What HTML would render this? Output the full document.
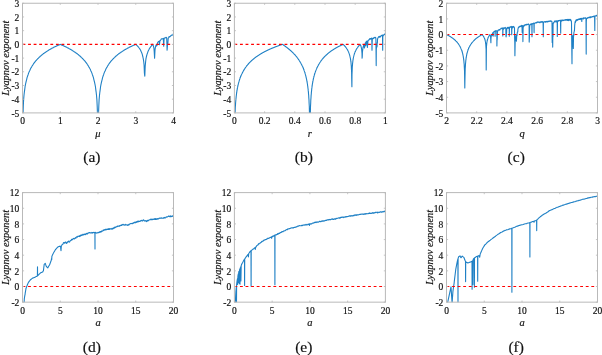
<!DOCTYPE html>
<html lang="en"><head><meta charset="utf-8"><title>Lyapunov exponents</title>
<style>html,body{margin:0;padding:0;background:#fff}body{width:602px;height:355px;overflow:hidden}svg{display:block}</style>
</head><body>
<svg width="602" height="355" viewBox="0 0 602 355" font-family="'Liberation Serif', serif">
<rect width="602" height="355" fill="#fff"/>
<style>text{stroke:#111;stroke-width:0.18px}</style>
<g id="plot-a">
<clipPath id="c0"><rect x="22.5" y="3.25" width="151.0" height="109.65"/></clipPath>
<polyline clip-path="url(#c0)" points="22.9,117.3 23.3,106.3 23.6,99.9 24.0,95.3 24.4,91.8 24.8,88.9 25.1,86.5 25.5,84.4 25.9,82.5 26.3,80.8 26.7,79.3 27.0,77.9 27.4,76.7 27.8,75.5 28.2,74.4 28.5,73.4 28.9,72.4 29.3,71.5 29.7,70.7 30.1,69.8 30.4,69.1 30.8,68.3 31.2,67.6 31.6,67.0 31.9,66.3 32.3,65.7 32.7,65.1 33.1,64.5 33.4,64.0 33.8,63.4 34.2,62.9 34.6,62.4 35.0,61.9 35.3,61.4 35.7,61.0 36.1,60.5 36.5,60.1 36.8,59.7 37.2,59.3 37.6,58.9 38.0,58.5 38.4,58.1 38.7,57.7 39.1,57.4 39.5,57.0 39.9,56.7 40.2,56.3 40.6,56.0 41.0,55.7 41.4,55.3 41.8,55.0 42.1,54.7 42.5,54.4 42.9,54.1 43.3,53.8 43.6,53.5 44.0,53.3 44.4,53.0 44.8,52.7 45.1,52.5 45.5,52.2 45.9,51.9 46.3,51.7 46.7,51.4 47.0,51.2 47.4,50.9 47.8,50.7 48.2,50.5 48.5,50.2 48.9,50.0 49.3,49.8 49.7,49.6 50.1,49.4 50.4,49.1 50.8,48.9 51.2,48.7 51.6,48.5 51.9,48.3 52.3,48.1 52.7,47.9 53.1,47.7 53.5,47.5 53.8,47.3 54.2,47.1 54.6,46.9 55.0,46.8 55.3,46.6 55.7,46.4 56.1,46.2 56.5,46.0 56.9,45.9 57.2,45.7 57.6,45.5 58.0,45.3 58.4,45.2 58.7,45.0 59.1,44.9 59.5,44.7 59.9,44.5 60.2,44.4 60.6,44.5 61.0,44.7 61.4,44.9 61.8,45.0 62.1,45.2 62.5,45.3 62.9,45.5 63.3,45.7 63.6,45.9 64.0,46.0 64.4,46.2 64.8,46.4 65.2,46.6 65.5,46.8 65.9,46.9 66.3,47.1 66.7,47.3 67.0,47.5 67.4,47.7 67.8,47.9 68.2,48.1 68.6,48.3 68.9,48.5 69.3,48.7 69.7,48.9 70.1,49.1 70.4,49.4 70.8,49.6 71.2,49.8 71.6,50.0 72.0,50.2 72.3,50.5 72.7,50.7 73.1,50.9 73.5,51.2 73.8,51.4 74.2,51.7 74.6,51.9 75.0,52.2 75.4,52.5 75.7,52.7 76.1,53.0 76.5,53.3 76.9,53.5 77.2,53.8 77.6,54.1 78.0,54.4 78.4,54.7 78.7,55.0 79.1,55.3 79.5,55.7 79.9,56.0 80.3,56.3 80.6,56.7 81.0,57.0 81.4,57.4 81.8,57.7 82.1,58.1 82.5,58.5 82.9,58.9 83.3,59.3 83.7,59.7 84.0,60.1 84.4,60.5 84.8,61.0 85.2,61.4 85.5,61.9 85.9,62.4 86.3,62.9 86.7,63.4 87.1,64.0 87.4,64.5 87.8,65.1 88.2,65.7 88.6,66.3 88.9,67.0 89.3,67.6 89.7,68.3 90.1,69.1 90.5,69.8 90.8,70.7 91.2,71.5 91.6,72.4 92.0,73.4 92.3,74.4 92.7,75.5 93.1,76.7 93.5,77.9 93.8,79.3 94.2,80.8 94.6,82.5 95.0,84.4 95.4,86.5 95.7,88.9 96.1,91.8 96.5,95.3 96.9,99.9 97.2,106.3 97.6,117.3 98.0,126.6 98.4,117.3 98.8,106.3 99.1,99.9 99.5,95.3 99.9,91.8 100.3,88.9 100.6,86.5 101.0,84.4 101.4,82.5 101.8,80.8 102.2,79.3 102.5,77.9 102.9,76.7 103.3,75.5 103.7,74.4 104.0,73.4 104.4,72.4 104.8,71.5 105.2,70.7 105.6,69.8 105.9,69.1 106.3,68.3 106.7,67.6 107.1,67.0 107.4,66.3 107.8,65.7 108.2,65.1 108.6,64.5 108.9,64.0 109.3,63.4 109.7,62.9 110.1,62.4 110.5,61.9 110.8,61.4 111.2,61.0 111.6,60.5 112.0,60.1 112.3,59.7 112.7,59.3 113.1,58.9 113.5,58.5 113.9,58.1 114.2,57.7 114.6,57.4 115.0,57.0 115.4,56.7 115.7,56.3 116.1,56.0 116.5,55.7 116.9,55.3 117.3,55.0 117.6,54.7 118.0,54.4 118.4,54.1 118.8,53.8 119.1,53.5 119.5,53.3 119.9,53.0 120.3,52.7 120.7,52.5 121.0,52.2 121.4,51.9 121.8,51.7 122.2,51.4 122.5,51.2 122.9,50.9 123.3,50.7 123.7,50.5 124.0,50.2 124.4,50.0 124.8,49.8 125.2,49.6 125.6,49.4 125.9,49.1 126.3,48.9 126.7,48.7 127.1,48.5 127.4,48.3 127.8,48.1 128.2,47.9 128.6,47.7 129.0,47.5 129.3,47.3 129.7,47.1 130.1,46.9 130.5,46.8 130.8,46.6 131.2,46.4 131.6,46.2 132.0,46.0 132.4,45.9 132.7,45.7 133.1,45.5 133.5,45.3 133.9,45.2 134.2,45.0 134.6,44.9 135.0,44.7 135.4,44.5 135.8,44.4 136.1,44.7 136.5,45.0 136.9,45.4 137.3,45.8 137.6,46.2 138.0,46.6 138.4,47.0 138.8,47.5 139.1,48.0 139.5,48.5 139.9,49.1 140.3,49.8 140.7,50.5 141.0,51.2 141.4,52.1 141.8,53.0 142.2,54.1 142.5,55.4 142.9,57.0 143.3,58.9 143.7,61.4 144.1,65.2 144.4,72.9 144.8,76.3 145.2,66.3 145.6,62.0 145.9,59.2 146.3,57.2 146.7,55.5 147.1,54.2 147.5,53.0 147.8,52.0 148.2,51.1 148.6,50.3 149.0,49.5 149.3,48.8 149.7,48.2 150.1,47.6 150.5,47.1 150.8,46.5 151.2,46.1 151.6,45.6 152.0,45.2 152.4,44.7 152.7,44.4 153.1,45.3 153.5,46.4 153.9,48.1 154.2,51.2 154.6,58.2 155.0,49.9 155.4,47.4 155.8,45.9 156.1,44.8 156.5,46.0 156.9,45.6 157.3,44.2 157.6,42.7 158.0,42.1 158.4,41.6 158.8,41.4 159.2,41.1 159.5,44.7 159.9,40.9 160.3,40.5 160.7,39.9 161.0,39.5 161.4,38.9 161.8,39.0 162.2,38.9 162.6,38.8 162.9,38.7 163.3,38.4 163.7,46.1 164.1,38.6 164.4,38.2 164.8,37.9 165.2,37.9 165.6,37.8 166.0,37.3 166.3,37.6 166.7,37.8 167.1,50.2 167.5,45.1 167.8,44.3 168.2,38.3 168.6,37.7 169.0,36.6 169.3,36.6 169.7,37.0 170.1,36.5 170.5,36.1 170.9,35.8 171.2,35.4 171.6,35.1 172.0,35.3 172.4,35.1 172.7,34.8 173.1,34.2 173.5,33.4" fill="none" stroke="#1f80c5" stroke-width="1.1" stroke-linejoin="round"/>
<line x1="22.5" y1="44.37" x2="173.5" y2="44.37" stroke="#f00" stroke-width="1.05" stroke-dasharray="2.85 2.72"/>
<rect x="22.5" y="3.25" width="151.0" height="109.65" fill="none" stroke="#b9b9b9" stroke-width="1"/>
<path d="M22.50 112.9v-1.6M22.50 3.25v1.6M60.25 112.9v-1.6M60.25 3.25v1.6M98.00 112.9v-1.6M98.00 3.25v1.6M135.75 112.9v-1.6M135.75 3.25v1.6M173.50 112.9v-1.6M173.50 3.25v1.6M22.5 112.90h1.6M173.5 112.90h-1.6M22.5 99.19h1.6M173.5 99.19h-1.6M22.5 85.49h1.6M173.5 85.49h-1.6M22.5 71.78h1.6M173.5 71.78h-1.6M22.5 58.08h1.6M173.5 58.08h-1.6M22.5 44.37h1.6M173.5 44.37h-1.6M22.5 30.66h1.6M173.5 30.66h-1.6M22.5 16.96h1.6M173.5 16.96h-1.6M22.5 3.25h1.6M173.5 3.25h-1.6" stroke="#b9b9b9" stroke-width="0.8" fill="none"/>
<g font-size="9.5" fill="#111">
<text x="22.50" y="124.30" text-anchor="middle">0</text>
<text x="60.25" y="124.30" text-anchor="middle">1</text>
<text x="98.00" y="124.30" text-anchor="middle">2</text>
<text x="135.75" y="124.30" text-anchor="middle">3</text>
<text x="173.50" y="124.30" text-anchor="middle">4</text>
<text x="19.30" y="116.60" text-anchor="end">-5</text>
<text x="19.30" y="102.89" text-anchor="end">-4</text>
<text x="19.30" y="89.19" text-anchor="end">-3</text>
<text x="19.30" y="75.48" text-anchor="end">-2</text>
<text x="19.30" y="61.78" text-anchor="end">-1</text>
<text x="19.30" y="48.07" text-anchor="end">0</text>
<text x="19.30" y="34.36" text-anchor="end">1</text>
<text x="19.30" y="20.66" text-anchor="end">2</text>
<text x="19.30" y="6.95" text-anchor="end">3</text>
</g>
<text x="98.00" y="136.90" text-anchor="middle" font-size="10.5" font-style="italic" fill="#111">μ</text>
<text transform="translate(8.60 58.08) rotate(-90)" text-anchor="middle" font-size="10.3" font-style="italic" fill="#111">Lyapnov exponent</text>
<text x="91.9" y="162.15" text-anchor="middle" font-size="15.5" fill="#111">(a)</text>
</g>
<g id="plot-b">
<clipPath id="c1"><rect x="234.4" y="3.25" width="151.0" height="109.65"/></clipPath>
<polyline clip-path="url(#c1)" points="234.6,126.6 234.7,124.6 234.9,118.2 235.0,113.7 235.2,110.1 235.3,107.2 235.5,104.8 235.6,102.7 235.8,100.8 235.9,99.2 236.1,97.6 236.2,96.3 236.4,95.0 236.5,93.8 236.7,92.7 236.8,91.7 237.0,90.7 237.1,89.8 237.3,89.0 237.4,88.2 237.6,87.4 237.7,86.7 237.9,86.0 238.0,85.3 238.2,84.6 238.3,84.0 238.5,83.4 238.6,82.9 238.8,82.3 238.9,81.8 239.1,81.2 239.2,80.7 239.4,80.2 239.5,79.8 239.7,79.3 239.8,78.9 240.0,78.4 240.1,78.0 240.3,77.6 240.4,77.2 240.6,76.8 240.7,76.4 240.9,76.1 241.0,75.7 241.2,75.3 241.3,75.0 241.5,74.7 241.6,74.3 241.8,74.0 242.0,73.7 242.1,73.4 242.3,73.1 242.4,72.7 242.6,72.5 242.7,72.2 242.9,71.9 243.0,71.6 243.2,71.3 243.3,71.1 243.5,70.8 243.6,70.5 243.8,70.3 243.9,70.0 244.1,69.8 244.2,69.5 244.4,69.3 244.5,69.0 244.7,68.8 244.8,68.6 245.0,68.3 245.1,68.1 245.3,67.9 245.4,67.7 245.6,67.5 245.7,67.3 245.9,67.0 246.0,66.8 246.2,66.6 246.3,66.4 246.5,66.2 246.6,66.0 246.8,65.8 246.9,65.6 247.1,65.5 247.2,65.3 247.4,65.1 247.5,64.9 247.7,64.7 247.8,64.5 248.0,64.4 248.1,64.2 248.3,64.0 248.4,63.8 248.6,63.7 248.7,63.5 248.9,63.3 249.0,63.2 249.2,63.0 249.3,62.9 249.5,62.7 249.7,62.5 249.8,62.4 250.0,62.2 250.1,62.1 250.3,61.9 250.4,61.8 250.6,61.6 250.7,61.5 250.9,61.3 251.0,61.2 251.2,61.0 251.3,60.9 251.5,60.8 251.6,60.6 251.8,60.5 251.9,60.3 252.1,60.2 252.2,60.1 252.4,59.9 252.5,59.8 252.7,59.7 252.8,59.6 253.0,59.4 253.1,59.3 253.3,59.2 253.4,59.0 253.6,58.9 253.7,58.8 253.9,58.7 254.0,58.5 254.2,58.4 254.3,58.3 254.5,58.2 254.6,58.1 254.8,57.9 254.9,57.8 255.1,57.7 255.2,57.6 255.4,57.5 255.5,57.4 255.7,57.3 255.8,57.1 256.0,57.0 256.1,56.9 256.3,56.8 256.4,56.7 256.6,56.6 256.7,56.5 256.9,56.4 257.1,56.3 257.2,56.2 257.4,56.1 257.5,56.0 257.7,55.9 257.8,55.8 258.0,55.7 258.1,55.6 258.3,55.5 258.4,55.4 258.6,55.3 258.7,55.2 258.9,55.1 259.0,55.0 259.2,54.9 259.3,54.8 259.5,54.7 259.6,54.6 259.8,54.5 259.9,54.4 260.1,54.3 260.2,54.2 260.4,54.1 260.5,54.0 260.7,53.9 260.8,53.8 261.0,53.7 261.1,53.7 261.3,53.6 261.4,53.5 261.6,53.4 261.7,53.3 261.9,53.2 262.0,53.1 262.2,53.0 262.3,53.0 262.5,52.9 262.6,52.8 262.8,52.7 262.9,52.6 263.1,52.5 263.2,52.5 263.4,52.4 263.5,52.3 263.7,52.2 263.8,52.1 264.0,52.0 264.1,52.0 264.3,51.9 264.4,51.8 264.6,51.7 264.8,51.6 264.9,51.6 265.1,51.5 265.2,51.4 265.4,51.3 265.5,51.3 265.7,51.2 265.8,51.1 266.0,51.0 266.1,51.0 266.3,50.9 266.4,50.8 266.6,50.7 266.7,50.7 266.9,50.6 267.0,50.5 267.2,50.4 267.3,50.4 267.5,50.3 267.6,50.2 267.8,50.1 267.9,50.1 268.1,50.0 268.2,49.9 268.4,49.9 268.5,49.8 268.7,49.7 268.8,49.7 269.0,49.6 269.1,49.5 269.3,49.4 269.4,49.4 269.6,49.3 269.7,49.2 269.9,49.2 270.0,49.1 270.2,49.0 270.3,49.0 270.5,48.9 270.6,48.8 270.8,48.8 270.9,48.7 271.1,48.6 271.2,48.6 271.4,48.5 271.5,48.4 271.7,48.4 271.8,48.3 272.0,48.3 272.1,48.2 272.3,48.1 272.5,48.1 272.6,48.0 272.8,47.9 272.9,47.9 273.1,47.8 273.2,47.8 273.4,47.7 273.5,47.6 273.7,47.6 273.8,47.5 274.0,47.5 274.1,47.4 274.3,47.3 274.4,47.3 274.6,47.2 274.7,47.2 274.9,47.1 275.0,47.0 275.2,47.0 275.3,46.9 275.5,46.9 275.6,46.8 275.8,46.7 275.9,46.7 276.1,46.6 276.2,46.6 276.4,46.5 276.5,46.5 276.7,46.4 276.8,46.3 277.0,46.3 277.1,46.2 277.3,46.2 277.4,46.1 277.6,46.1 277.7,46.0 277.9,46.0 278.0,45.9 278.2,45.8 278.3,45.8 278.5,45.7 278.6,45.7 278.8,45.6 278.9,45.6 279.1,45.5 279.2,45.5 279.4,45.4 279.5,45.4 279.7,45.3 279.9,45.3 280.0,45.2 280.2,45.1 280.3,45.1 280.5,45.0 280.6,45.0 280.8,44.9 280.9,44.9 281.1,44.8 281.2,44.8 281.4,44.7 281.5,44.7 281.7,44.6 281.8,44.6 282.0,44.5 282.1,44.5 282.3,44.4 282.4,44.4 282.6,44.4 282.7,44.5 282.9,44.6 283.0,44.7 283.2,44.8 283.3,44.9 283.5,45.0 283.6,45.1 283.8,45.3 283.9,45.4 284.1,45.5 284.2,45.6 284.4,45.7 284.5,45.8 284.7,45.9 284.8,46.0 285.0,46.1 285.1,46.2 285.3,46.3 285.4,46.4 285.6,46.5 285.7,46.6 285.9,46.8 286.0,46.9 286.2,47.0 286.3,47.1 286.5,47.2 286.6,47.3 286.8,47.4 286.9,47.5 287.1,47.7 287.2,47.8 287.4,47.9 287.6,48.0 287.7,48.1 287.9,48.2 288.0,48.4 288.2,48.5 288.3,48.6 288.5,48.7 288.6,48.9 288.8,49.0 288.9,49.1 289.1,49.2 289.2,49.4 289.4,49.5 289.5,49.6 289.7,49.7 289.8,49.9 290.0,50.0 290.1,50.1 290.3,50.3 290.4,50.4 290.6,50.5 290.7,50.7 290.9,50.8 291.0,50.9 291.2,51.1 291.3,51.2 291.5,51.3 291.6,51.5 291.8,51.6 291.9,51.8 292.1,51.9 292.2,52.1 292.4,52.2 292.5,52.3 292.7,52.5 292.8,52.6 293.0,52.8 293.1,52.9 293.3,53.1 293.4,53.3 293.6,53.4 293.7,53.6 293.9,53.7 294.0,53.9 294.2,54.0 294.3,54.2 294.5,54.4 294.6,54.5 294.8,54.7 295.0,54.9 295.1,55.0 295.3,55.2 295.4,55.4 295.6,55.6 295.7,55.7 295.9,55.9 296.0,56.1 296.2,56.3 296.3,56.5 296.5,56.7 296.6,56.8 296.8,57.0 296.9,57.2 297.1,57.4 297.2,57.6 297.4,57.8 297.5,58.0 297.7,58.2 297.8,58.4 298.0,58.6 298.1,58.8 298.3,59.1 298.4,59.3 298.6,59.5 298.7,59.7 298.9,59.9 299.0,60.2 299.2,60.4 299.3,60.6 299.5,60.9 299.6,61.1 299.8,61.4 299.9,61.6 300.1,61.8 300.2,62.1 300.4,62.4 300.5,62.6 300.7,62.9 300.8,63.2 301.0,63.4 301.1,63.7 301.3,64.0 301.4,64.3 301.6,64.6 301.7,64.9 301.9,65.2 302.0,65.5 302.2,65.8 302.4,66.1 302.5,66.5 302.7,66.8 302.8,67.1 303.0,67.5 303.1,67.8 303.3,68.2 303.4,68.6 303.6,69.0 303.7,69.3 303.9,69.7 304.0,70.2 304.2,70.6 304.3,71.0 304.5,71.4 304.6,71.9 304.8,72.4 304.9,72.8 305.1,73.3 305.2,73.9 305.4,74.4 305.5,74.9 305.7,75.5 305.8,76.1 306.0,76.7 306.1,77.3 306.3,78.0 306.4,78.6 306.6,79.4 306.7,80.1 306.9,80.9 307.0,81.7 307.2,82.6 307.3,83.5 307.5,84.4 307.6,85.5 307.8,86.6 307.9,87.8 308.1,89.0 308.2,90.4 308.4,91.9 308.5,93.6 308.7,95.5 308.8,97.6 309.0,100.0 309.1,102.9 309.3,106.5 309.4,111.0 309.6,117.5 309.7,126.6 309.9,126.6 310.1,126.6 310.2,117.5 310.4,111.1 310.5,106.5 310.7,103.0 310.8,100.1 311.0,97.7 311.1,95.6 311.3,93.7 311.4,92.1 311.6,90.6 311.7,89.2 311.9,87.9 312.0,86.8 312.2,85.7 312.3,84.7 312.5,83.7 312.6,82.8 312.8,82.0 312.9,81.2 313.1,80.4 313.2,79.7 313.4,79.0 313.5,78.3 313.7,77.7 313.8,77.1 314.0,76.5 314.1,75.9 314.3,75.4 314.4,74.8 314.6,74.3 314.7,73.8 314.9,73.3 315.0,72.9 315.2,72.4 315.3,72.0 315.5,71.6 315.6,71.1 315.8,70.7 315.9,70.3 316.1,70.0 316.2,69.6 316.4,69.2 316.5,68.9 316.7,68.5 316.8,68.2 317.0,67.8 317.1,67.5 317.3,67.2 317.5,66.9 317.6,66.6 317.8,66.3 317.9,66.0 318.1,65.7 318.2,65.4 318.4,65.1 318.5,64.8 318.7,64.6 318.8,64.3 319.0,64.1 319.1,63.8 319.3,63.5 319.4,63.3 319.6,63.1 319.7,62.8 319.9,62.6 320.0,62.3 320.2,62.1 320.3,61.9 320.5,61.7 320.6,61.5 320.8,61.2 320.9,61.0 321.1,60.8 321.2,60.6 321.4,60.4 321.5,60.2 321.7,60.0 321.8,59.8 322.0,59.6 322.1,59.4 322.3,59.2 322.4,59.1 322.6,58.9 322.7,58.7 322.9,58.5 323.0,58.3 323.2,58.2 323.3,58.0 323.5,57.8 323.6,57.7 323.8,57.5 323.9,57.3 324.1,57.2 324.2,57.0 324.4,56.8 324.5,56.7 324.7,56.5 324.8,56.4 325.0,56.2 325.2,56.1 325.3,55.9 325.5,55.8 325.6,55.6 325.8,55.5 325.9,55.3 326.1,55.2 326.2,55.0 326.4,54.9 326.5,54.8 326.7,54.6 326.8,54.5 327.0,54.4 327.1,54.2 327.3,54.1 327.4,54.0 327.6,53.8 327.7,53.7 327.9,53.6 328.0,53.4 328.2,53.3 328.3,53.2 328.5,53.1 328.6,52.9 328.8,52.8 328.9,52.7 329.1,52.6 329.2,52.5 329.4,52.3 329.5,52.2 329.7,52.1 329.8,52.0 330.0,51.9 330.1,51.8 330.3,51.7 330.4,51.6 330.6,51.4 330.7,51.3 330.9,51.2 331.0,51.1 331.2,51.0 331.3,50.9 331.5,50.8 331.6,50.7 331.8,50.6 331.9,50.5 332.1,50.4 332.2,50.3 332.4,50.2 332.6,50.1 332.7,50.0 332.9,49.9 333.0,49.8 333.2,49.7 333.3,49.6 333.5,49.5 333.6,49.4 333.8,49.3 333.9,49.2 334.1,49.1 334.2,49.0 334.4,48.9 334.5,48.8 334.7,48.7 334.8,48.6 335.0,48.6 335.1,48.5 335.3,48.4 335.4,48.3 335.6,48.2 335.7,48.1 335.9,48.0 336.0,47.9 336.2,47.9 336.3,47.8 336.5,47.7 336.6,47.6 336.8,47.5 336.9,47.4 337.1,47.3 337.2,47.3 337.4,47.2 337.5,47.1 337.7,47.0 337.8,46.9 338.0,46.9 338.1,46.8 338.3,46.7 338.4,46.6 338.6,46.5 338.7,46.5 338.9,46.4 339.0,46.3 339.2,46.2 339.3,46.2 339.5,46.1 339.6,46.0 339.8,45.9 339.9,45.9 340.1,45.8 340.3,45.7 340.4,45.6 340.6,45.6 340.7,45.5 340.9,45.4 341.0,45.3 341.2,45.3 341.3,45.2 341.5,45.1 341.6,45.1 341.8,45.0 341.9,44.9 342.1,44.8 342.2,44.8 342.4,44.7 342.5,44.6 342.7,44.6 342.8,44.5 343.0,44.4 343.1,44.4 343.3,44.5 343.4,44.6 343.6,44.8 343.7,44.9 343.9,45.1 344.0,45.2 344.2,45.4 344.3,45.5 344.5,45.7 344.6,45.9 344.8,46.0 344.9,46.2 345.1,46.4 345.2,46.5 345.4,46.7 345.5,46.9 345.7,47.1 345.8,47.3 346.0,47.5 346.1,47.7 346.3,47.9 346.4,48.1 346.6,48.3 346.7,48.6 346.9,48.8 347.0,49.0 347.2,49.3 347.3,49.6 347.5,49.8 347.6,50.1 347.8,50.4 348.0,50.7 348.1,51.0 348.3,51.3 348.4,51.7 348.6,52.0 348.7,52.4 348.9,52.8 349.0,53.2 349.2,53.6 349.3,54.1 349.5,54.6 349.6,55.1 349.8,55.6 349.9,56.2 350.1,56.9 350.2,57.6 350.4,58.3 350.5,59.2 350.7,60.2 350.8,61.2 351.0,62.5 351.1,64.0 351.3,65.9 351.4,68.4 351.6,72.0 351.7,78.8 351.9,86.8 352.0,74.5 352.2,69.8 352.3,66.9 352.5,64.8 352.6,63.2 352.8,61.8 352.9,60.6 353.1,59.6 353.2,58.7 353.4,57.9 353.5,57.1 353.7,56.4 353.8,55.8 354.0,55.2 354.1,54.7 354.3,54.2 354.4,53.7 354.6,53.3 354.7,52.9 354.9,52.4 355.0,52.1 355.2,51.7 355.4,51.3 355.5,51.0 355.7,50.7 355.8,50.4 356.0,50.1 356.1,49.8 356.3,49.5 356.4,49.2 356.6,49.0 356.7,48.7 356.9,48.5 357.0,48.3 357.2,48.0 357.3,47.8 357.5,47.6 357.6,47.4 357.8,47.2 357.9,47.0 358.1,46.8 358.2,46.6 358.4,46.4 358.5,46.2 358.7,46.0 358.8,45.8 359.0,45.7 359.1,45.5 359.3,45.3 359.4,45.2 359.6,45.0 359.7,44.9 359.9,44.7 360.0,44.6 360.2,44.4 360.3,44.6 360.5,44.9 360.6,45.3 360.8,45.7 360.9,46.1 361.1,46.6 361.2,47.1 361.4,47.8 361.5,48.6 361.7,49.6 361.8,51.0 362.0,53.1 362.1,58.2 362.3,56.3 362.4,52.5 362.6,50.6 362.8,49.3 362.9,48.3 363.1,47.5 363.2,46.9 363.4,46.3 363.5,45.8 363.7,45.3 363.8,44.9 364.0,44.6 364.1,44.7 364.3,45.7 364.4,47.9 364.6,47.5 364.7,45.4 364.9,44.4 365.0,45.0 365.2,43.8 365.3,42.9 365.5,43.0 365.6,44.8 365.8,45.9 365.9,42.2 366.1,41.8 366.2,44.8 366.4,41.4 366.5,41.3 366.7,41.4 366.8,41.4 367.0,41.1 367.1,40.9 367.3,41.2 367.4,47.4 367.6,45.2 367.7,44.2 367.9,41.6 368.0,40.7 368.2,40.6 368.3,40.4 368.5,40.2 368.6,40.2 368.8,39.7 368.9,39.9 369.1,39.5 369.2,39.6 369.4,39.6 369.5,38.8 369.7,38.9 369.8,38.9 370.0,38.6 370.1,38.7 370.3,38.8 370.5,39.2 370.6,38.6 370.8,38.7 370.9,38.6 371.1,38.8 371.2,38.4 371.4,38.5 371.5,38.1 371.7,38.5 371.8,38.9 372.0,50.2 372.1,44.6 372.3,39.7 372.4,38.7 372.6,38.4 372.7,38.2 372.9,38.4 373.0,38.7 373.2,38.2 373.3,38.0 373.5,38.1 373.6,38.4 373.8,38.0 373.9,38.1 374.1,37.7 374.2,37.4 374.4,37.6 374.5,37.6 374.7,37.7 374.8,37.6 375.0,37.4 375.1,37.5 375.3,37.4 375.4,37.7 375.6,37.5 375.7,37.6 375.9,38.8 376.0,46.9 376.2,65.6 376.3,50.0 376.5,46.7 376.6,45.0 376.8,46.1 376.9,47.0 377.1,46.2 377.2,42.6 377.4,42.9 377.5,39.9 377.7,38.4 377.9,38.0 378.0,37.9 378.2,37.7 378.3,37.4 378.5,36.8 378.6,37.1 378.8,36.6 378.9,37.0 379.1,36.7 379.2,36.7 379.4,37.1 379.5,36.4 379.7,36.7 379.8,36.5 380.0,37.3 380.1,36.7 380.3,36.6 380.4,36.2 380.6,36.3 380.7,36.4 380.9,36.0 381.0,35.7 381.2,35.7 381.3,35.5 381.5,35.5 381.6,35.8 381.8,35.5 381.9,35.5 382.1,35.0 382.2,35.4 382.4,35.3 382.5,35.2 382.7,50.3 382.8,37.1 383.0,35.6 383.1,35.4 383.3,35.8 383.4,35.0 383.6,35.0 383.7,34.8 383.9,35.0 384.0,34.7 384.2,34.5 384.3,34.2 384.5,34.5 384.6,34.4 384.8,34.2 384.9,34.0 385.1,33.9 385.2,33.9 385.4,33.4" fill="none" stroke="#1f80c5" stroke-width="1.1" stroke-linejoin="round"/>
<line x1="234.4" y1="44.37" x2="385.4" y2="44.37" stroke="#f00" stroke-width="1.05" stroke-dasharray="2.85 2.72"/>
<rect x="234.4" y="3.25" width="151.0" height="109.65" fill="none" stroke="#b9b9b9" stroke-width="1"/>
<path d="M234.40 112.9v-1.6M234.40 3.25v1.6M264.60 112.9v-1.6M264.60 3.25v1.6M294.80 112.9v-1.6M294.80 3.25v1.6M325.00 112.9v-1.6M325.00 3.25v1.6M355.20 112.9v-1.6M355.20 3.25v1.6M385.40 112.9v-1.6M385.40 3.25v1.6M234.4 112.90h1.6M385.4 112.90h-1.6M234.4 99.19h1.6M385.4 99.19h-1.6M234.4 85.49h1.6M385.4 85.49h-1.6M234.4 71.78h1.6M385.4 71.78h-1.6M234.4 58.08h1.6M385.4 58.08h-1.6M234.4 44.37h1.6M385.4 44.37h-1.6M234.4 30.66h1.6M385.4 30.66h-1.6M234.4 16.96h1.6M385.4 16.96h-1.6M234.4 3.25h1.6M385.4 3.25h-1.6" stroke="#b9b9b9" stroke-width="0.8" fill="none"/>
<g font-size="9.5" fill="#111">
<text x="234.40" y="124.30" text-anchor="middle">0</text>
<text x="264.60" y="124.30" text-anchor="middle">0.2</text>
<text x="294.80" y="124.30" text-anchor="middle">0.4</text>
<text x="325.00" y="124.30" text-anchor="middle">0.6</text>
<text x="355.20" y="124.30" text-anchor="middle">0.8</text>
<text x="385.40" y="124.30" text-anchor="middle">1</text>
<text x="231.20" y="116.60" text-anchor="end">-5</text>
<text x="231.20" y="102.89" text-anchor="end">-4</text>
<text x="231.20" y="89.19" text-anchor="end">-3</text>
<text x="231.20" y="75.48" text-anchor="end">-2</text>
<text x="231.20" y="61.78" text-anchor="end">-1</text>
<text x="231.20" y="48.07" text-anchor="end">0</text>
<text x="231.20" y="34.36" text-anchor="end">1</text>
<text x="231.20" y="20.66" text-anchor="end">2</text>
<text x="231.20" y="6.95" text-anchor="end">3</text>
</g>
<text x="309.90" y="136.90" text-anchor="middle" font-size="10.5" font-style="italic" fill="#111">r</text>
<text transform="translate(220.50 58.08) rotate(-90)" text-anchor="middle" font-size="10.3" font-style="italic" fill="#111">Lyapnov exponent</text>
<text x="303.8" y="162.15" text-anchor="middle" font-size="15.5" fill="#111">(b)</text>
</g>
<g id="plot-c">
<clipPath id="c2"><rect x="446.5" y="3.25" width="151.0" height="109.65"/></clipPath>
<polyline clip-path="url(#c2)" points="446.5,34.6 446.7,34.7 446.8,34.7 447.0,34.8 447.1,34.9 447.3,34.9 447.4,35.0 447.6,35.1 447.7,35.2 447.9,35.3 448.0,35.3 448.2,35.4 448.3,35.5 448.5,35.6 448.6,35.7 448.8,35.7 448.9,35.8 449.1,35.9 449.2,36.0 449.4,36.1 449.5,36.2 449.7,36.3 449.8,36.3 450.0,36.4 450.1,36.5 450.3,36.6 450.4,36.7 450.6,36.8 450.7,36.9 450.9,37.0 451.0,37.1 451.2,37.2 451.3,37.3 451.5,37.4 451.6,37.5 451.8,37.6 451.9,37.7 452.1,37.8 452.2,37.9 452.4,38.0 452.5,38.1 452.7,38.2 452.8,38.3 453.0,38.4 453.1,38.6 453.3,38.7 453.4,38.8 453.6,38.9 453.7,39.0 453.9,39.2 454.0,39.3 454.2,39.4 454.4,39.5 454.5,39.7 454.7,39.8 454.8,39.9 455.0,40.1 455.1,40.2 455.3,40.3 455.4,40.5 455.6,40.6 455.7,40.8 455.9,40.9 456.0,41.1 456.2,41.2 456.3,41.4 456.5,41.5 456.6,41.7 456.8,41.9 456.9,42.0 457.1,42.2 457.2,42.4 457.4,42.6 457.5,42.7 457.7,42.9 457.8,43.1 458.0,43.3 458.1,43.5 458.3,43.7 458.4,43.9 458.6,44.1 458.7,44.4 458.9,44.6 459.0,44.8 459.2,45.1 459.3,45.3 459.5,45.6 459.6,45.8 459.8,46.1 459.9,46.4 460.1,46.6 460.2,46.9 460.4,47.2 460.5,47.5 460.7,47.9 460.8,48.2 461.0,48.5 461.1,48.9 461.3,49.3 461.4,49.7 461.6,50.1 461.8,50.5 461.9,51.0 462.1,51.5 462.2,52.0 462.4,52.5 462.5,53.1 462.7,53.7 462.8,54.3 463.0,55.0 463.1,55.8 463.3,56.6 463.4,57.6 463.6,58.6 463.7,59.7 463.9,61.1 464.0,62.6 464.2,64.5 464.3,66.9 464.5,70.1 464.6,75.2 464.8,88.0 464.9,81.2 465.1,73.0 465.2,68.8 465.4,65.9 465.5,63.8 465.7,62.0 465.8,60.5 466.0,59.3 466.1,58.2 466.3,57.2 466.4,56.3 466.6,55.5 466.7,54.7 466.9,54.0 467.0,53.4 467.2,52.8 467.3,52.2 467.5,51.7 467.6,51.2 467.8,50.7 467.9,50.3 468.1,49.8 468.2,49.4 468.4,49.0 468.5,48.7 468.7,48.3 468.8,48.0 469.0,47.6 469.1,47.3 469.3,47.0 469.5,46.7 469.6,46.4 469.8,46.1 469.9,45.8 470.1,45.6 470.2,45.3 470.4,45.1 470.5,44.8 470.7,44.6 470.8,44.3 471.0,44.1 471.1,43.9 471.3,43.7 471.4,43.5 471.6,43.3 471.7,43.1 471.9,42.9 472.0,42.7 472.2,42.5 472.3,42.3 472.5,42.1 472.6,41.9 472.8,41.8 472.9,41.6 473.1,41.4 473.2,41.2 473.4,41.1 473.5,40.9 473.7,40.8 473.8,40.6 474.0,40.5 474.1,40.3 474.3,40.2 474.4,40.0 474.6,39.9 474.7,39.7 474.9,39.6 475.0,39.5 475.2,39.3 475.3,39.2 475.5,39.1 475.6,38.9 475.8,38.8 475.9,38.7 476.1,38.5 476.2,38.4 476.4,38.3 476.5,38.2 476.7,38.1 476.9,38.0 477.0,37.8 477.2,37.7 477.3,37.6 477.5,37.5 477.6,37.4 477.8,37.3 477.9,37.2 478.1,37.1 478.2,37.0 478.4,36.9 478.5,36.8 478.7,36.7 478.8,36.6 479.0,36.5 479.1,36.4 479.3,36.3 479.4,36.2 479.6,36.1 479.7,36.0 479.9,35.9 480.0,35.8 480.2,35.7 480.3,35.6 480.5,35.5 480.6,35.4 480.8,35.3 480.9,35.3 481.1,35.2 481.2,35.1 481.4,35.0 481.5,34.9 481.7,34.8 481.8,34.7 482.0,34.7 482.1,34.6 482.3,34.7 482.4,34.9 482.6,35.1 482.7,35.3 482.9,35.5 483.0,35.7 483.2,35.9 483.3,36.1 483.5,36.3 483.6,36.6 483.8,36.9 483.9,37.2 484.1,37.5 484.2,37.8 484.4,38.1 484.6,38.5 484.7,39.0 484.9,39.4 485.0,40.0 485.2,40.6 485.3,41.2 485.5,42.1 485.6,43.1 485.8,44.4 485.9,46.2 486.1,49.4 486.2,70.0 486.4,49.3 486.5,46.1 486.7,44.3 486.8,43.0 487.0,42.0 487.1,41.2 487.3,40.5 487.4,39.8 487.6,39.3 487.7,38.8 487.9,38.4 488.0,38.0 488.2,37.6 488.3,37.3 488.5,37.0 488.6,36.7 488.8,36.4 488.9,36.1 489.1,35.9 489.2,35.6 489.4,35.4 489.5,35.2 489.7,35.0 489.8,34.8 490.0,34.6 490.1,35.0 490.3,35.5 490.4,36.2 490.6,37.1 490.7,38.9 490.9,42.7 491.0,38.1 491.2,36.7 491.3,35.8 491.5,35.2 491.6,34.7 491.8,35.6 492.0,35.5 492.1,35.1 492.3,33.9 492.4,33.8 492.6,33.0 492.7,33.0 492.9,32.8 493.0,32.5 493.2,36.1 493.3,32.8 493.5,32.3 493.6,31.9 493.8,31.9 493.9,31.8 494.1,31.5 494.2,31.5 494.4,31.5 494.5,31.5 494.7,31.3 494.8,31.1 495.0,31.2 495.1,36.2 495.3,31.7 495.4,30.9 495.6,30.9 495.7,30.8 495.9,31.1 496.0,30.7 496.2,30.7 496.3,30.9 496.5,30.7 496.6,30.7 496.8,30.9 496.9,46.0 497.1,35.7 497.2,39.7 497.4,33.6 497.5,32.1 497.7,31.1 497.8,30.9 498.0,30.2 498.1,30.4 498.3,29.9 498.4,30.0 498.6,30.1 498.7,30.1 498.9,29.9 499.0,29.8 499.2,29.5 499.4,29.7 499.5,29.9 499.7,29.4 499.8,30.1 500.0,29.4 500.1,29.2 500.3,29.2 500.4,29.1 500.6,28.8 500.7,28.9 500.9,28.5 501.0,28.2 501.2,28.4 501.3,28.6 501.5,28.4 501.6,28.6 501.8,28.3 501.9,28.3 502.1,28.3 502.2,28.2 502.4,28.0 502.5,28.3 502.7,28.0 502.8,36.0 503.0,28.3 503.1,28.4 503.3,27.9 503.4,28.0 503.6,29.1 503.7,28.0 503.9,28.0 504.0,28.0 504.2,28.6 504.3,28.3 504.5,28.0 504.6,27.9 504.8,27.9 504.9,27.6 505.1,27.6 505.2,27.4 505.4,27.9 505.5,27.7 505.7,27.8 505.8,27.8 506.0,36.4 506.1,37.0 506.3,35.7 506.4,34.3 506.6,32.3 506.7,29.3 506.9,28.6 507.1,28.2 507.2,28.2 507.4,27.4 507.5,27.5 507.7,28.1 507.8,27.6 508.0,27.6 508.1,28.4 508.3,27.7 508.4,27.4 508.6,27.9 508.7,27.4 508.9,27.8 509.0,27.5 509.2,27.3 509.3,36.3 509.5,27.3 509.6,27.6 509.8,27.3 509.9,27.0 510.1,27.3 510.2,27.2 510.4,27.3 510.5,26.9 510.7,27.1 510.8,26.7 511.0,26.9 511.1,27.0 511.3,26.4 511.4,26.7 511.6,26.8 511.7,34.7 511.9,27.4 512.0,26.8 512.2,27.1 512.3,26.7 512.5,28.0 512.6,27.0 512.8,26.7 512.9,26.9 513.1,26.8 513.2,27.0 513.4,26.7 513.5,27.0 513.7,26.4 513.8,27.4 514.0,27.4 514.1,27.1 514.3,27.4 514.5,28.4 514.6,38.1 514.8,43.0 514.9,55.8 515.1,46.1 515.2,41.7 515.4,39.4 515.5,37.9 515.7,36.8 515.8,35.8 516.0,35.2 516.1,34.8 516.3,36.5 516.4,41.1 516.6,38.2 516.7,35.7 516.9,35.6 517.0,35.7 517.2,33.2 517.3,32.7 517.5,31.8 517.6,32.2 517.8,31.5 517.9,29.4 518.1,28.5 518.2,27.9 518.4,27.5 518.5,27.2 518.7,27.0 518.8,27.7 519.0,27.0 519.1,27.2 519.3,27.2 519.4,26.6 519.6,26.4 519.7,26.3 519.9,26.4 520.0,26.4 520.2,26.1 520.3,26.0 520.5,26.1 520.6,26.0 520.8,26.7 520.9,26.5 521.1,26.2 521.2,25.8 521.4,26.0 521.5,25.6 521.7,25.4 521.8,25.7 522.0,25.6 522.2,32.6 522.3,25.5 522.5,26.0 522.6,25.9 522.8,25.8 522.9,41.6 523.1,29.1 523.2,26.4 523.4,25.9 523.5,26.4 523.7,26.7 523.8,26.1 524.0,25.4 524.1,25.1 524.3,25.2 524.4,25.1 524.6,25.4 524.7,25.6 524.9,25.0 525.0,25.1 525.2,25.1 525.3,25.1 525.5,24.9 525.6,24.6 525.8,24.7 525.9,24.6 526.1,24.8 526.2,24.8 526.4,24.9 526.5,24.3 526.7,24.6 526.8,24.7 527.0,24.3 527.1,24.4 527.3,24.6 527.4,24.5 527.6,24.3 527.7,24.5 527.9,24.4 528.0,24.5 528.2,24.4 528.3,24.2 528.5,24.0 528.6,24.3 528.8,24.3 528.9,24.5 529.1,24.8 529.2,42.1 529.4,37.2 529.5,31.8 529.7,26.3 529.9,24.9 530.0,24.8 530.2,24.9 530.3,24.4 530.5,24.3 530.6,24.2 530.8,24.1 530.9,24.5 531.1,24.3 531.2,23.8 531.4,23.8 531.5,23.7 531.7,23.7 531.8,24.0 532.0,36.7 532.1,23.9 532.3,23.9 532.4,23.7 532.6,24.0 532.7,23.5 532.9,23.8 533.0,23.7 533.2,23.3 533.3,23.3 533.5,23.4 533.6,23.3 533.8,23.5 533.9,23.2 534.1,32.6 534.2,23.5 534.4,23.7 534.5,23.5 534.7,23.2 534.8,23.0 535.0,23.0 535.1,23.2 535.3,23.2 535.4,22.9 535.6,22.8 535.7,22.8 535.9,22.7 536.0,22.7 536.2,22.6 536.3,22.4 536.5,23.0 536.6,22.5 536.8,22.4 536.9,22.5 537.1,22.6 537.3,22.5 537.4,21.9 537.6,22.1 537.7,22.3 537.9,22.3 538.0,22.3 538.2,22.2 538.3,22.1 538.5,22.1 538.6,22.2 538.8,22.4 538.9,22.2 539.1,21.9 539.2,22.1 539.4,22.1 539.5,22.7 539.7,22.2 539.8,22.2 540.0,22.5 540.1,22.6 540.3,22.0 540.4,22.3 540.6,21.7 540.7,22.0 540.9,22.1 541.0,21.7 541.2,22.0 541.3,22.3 541.5,22.3 541.6,22.2 541.8,21.5 541.9,21.8 542.1,22.0 542.2,22.2 542.4,21.9 542.5,21.6 542.7,21.9 542.8,21.8 543.0,21.8 543.1,22.8 543.3,36.8 543.4,22.4 543.6,22.3 543.7,22.1 543.9,22.1 544.0,21.8 544.2,21.8 544.3,21.8 544.5,21.7 544.6,22.0 544.8,21.8 545.0,21.8 545.1,21.5 545.3,21.7 545.4,21.8 545.6,22.3 545.7,21.7 545.9,21.8 546.0,21.6 546.2,21.9 546.3,21.6 546.5,21.4 546.6,21.8 546.8,21.5 546.9,21.5 547.1,21.6 547.2,22.1 547.4,21.6 547.5,21.4 547.7,21.3 547.8,21.5 548.0,21.5 548.1,21.6 548.3,21.7 548.4,21.7 548.6,21.1 548.7,21.2 548.9,21.5 549.0,21.5 549.2,21.3 549.3,21.4 549.5,21.1 549.6,21.2 549.8,21.1 549.9,21.0 550.1,21.0 550.2,20.9 550.4,21.1 550.5,21.2 550.7,21.4 550.8,20.9 551.0,20.8 551.1,21.3 551.3,21.1 551.4,21.3 551.6,21.2 551.7,21.6 551.9,21.5 552.0,22.0 552.2,42.4 552.4,39.8 552.5,35.4 552.7,47.1 552.8,36.6 553.0,36.7 553.1,23.5 553.3,23.0 553.4,23.3 553.6,22.6 553.7,22.4 553.9,22.7 554.0,22.4 554.2,21.7 554.3,21.8 554.5,21.8 554.6,21.3 554.8,21.0 554.9,20.9 555.1,21.3 555.2,21.3 555.4,21.3 555.5,21.0 555.7,21.0 555.8,21.3 556.0,22.2 556.1,21.1 556.3,21.1 556.4,21.1 556.6,20.7 556.7,21.2 556.9,21.0 557.0,21.0 557.2,20.9 557.3,36.4 557.5,21.2 557.6,21.1 557.8,20.8 557.9,20.8 558.1,20.9 558.2,21.0 558.4,20.5 558.5,21.0 558.7,21.2 558.8,20.9 559.0,20.6 559.1,20.5 559.3,20.7 559.4,20.7 559.6,20.5 559.8,20.5 559.9,20.4 560.1,20.2 560.2,20.4 560.4,20.7 560.5,20.3 560.7,33.3 560.8,22.4 561.0,20.5 561.1,20.8 561.3,20.6 561.4,20.6 561.6,21.1 561.7,20.5 561.9,19.9 562.0,20.5 562.2,20.3 562.3,20.0 562.5,20.4 562.6,20.3 562.8,20.6 562.9,20.3 563.1,20.1 563.2,20.3 563.4,20.2 563.5,20.2 563.7,20.6 563.8,20.3 564.0,20.1 564.1,20.3 564.3,20.1 564.4,20.0 564.6,20.0 564.7,20.1 564.9,20.1 565.0,19.7 565.2,19.8 565.3,19.9 565.5,19.7 565.6,19.5 565.8,19.6 565.9,20.4 566.1,20.1 566.2,19.6 566.4,19.8 566.5,19.8 566.7,19.9 566.8,19.7 567.0,19.8 567.1,19.4 567.3,20.0 567.5,20.5 567.6,19.8 567.8,19.5 567.9,20.2 568.1,20.0 568.2,19.3 568.4,20.1 568.5,20.6 568.7,20.2 568.8,19.9 569.0,19.6 569.1,19.9 569.3,19.3 569.4,19.3 569.6,19.5 569.7,19.7 569.9,20.4 570.0,19.7 570.2,19.7 570.3,20.0 570.5,20.2 570.6,19.4 570.8,19.9 570.9,20.8 571.1,20.5 571.2,21.4 571.4,21.2 571.5,22.5 571.7,40.6 571.8,49.6 572.0,63.8 572.1,47.9 572.3,43.0 572.4,40.1 572.6,38.1 572.7,36.5 572.9,35.3 573.0,35.3 573.2,38.7 573.3,48.4 573.5,37.7 573.6,34.8 573.8,35.5 573.9,32.6 574.1,31.9 574.2,31.0 574.4,30.9 574.5,29.6 574.7,25.4 574.9,23.5 575.0,22.7 575.2,21.8 575.3,21.2 575.5,22.5 575.6,21.2 575.8,21.0 575.9,20.1 576.1,21.0 576.2,21.0 576.4,19.8 576.5,20.8 576.7,19.9 576.8,19.9 577.0,20.5 577.1,19.7 577.3,19.6 577.4,19.8 577.6,20.2 577.7,19.9 577.9,19.9 578.0,19.4 578.2,19.2 578.3,19.1 578.5,19.7 578.6,19.3 578.8,19.5 578.9,19.3 579.1,18.9 579.2,19.4 579.4,19.1 579.5,18.8 579.7,18.9 579.8,19.1 580.0,19.3 580.1,19.7 580.3,18.6 580.4,18.6 580.6,18.7 580.7,18.6 580.9,19.1 581.0,18.4 581.2,18.6 581.3,18.5 581.5,18.4 581.6,18.5 581.8,21.5 581.9,19.1 582.1,19.1 582.2,19.0 582.4,18.8 582.6,18.5 582.7,18.3 582.9,18.6 583.0,18.3 583.2,17.9 583.3,18.5 583.5,18.9 583.6,18.0 583.8,18.3 583.9,18.4 584.1,18.0 584.2,18.2 584.4,18.1 584.5,18.1 584.7,18.2 584.8,18.2 585.0,17.7 585.1,18.2 585.3,18.3 585.4,17.9 585.6,17.9 585.7,18.0 585.9,18.0 586.0,18.4 586.2,54.1 586.3,21.9 586.5,18.5 586.6,18.6 586.8,18.2 586.9,18.4 587.1,18.0 587.2,18.2 587.4,17.9 587.5,17.9 587.7,18.3 587.8,17.8 588.0,17.6 588.1,17.7 588.3,17.8 588.4,17.7 588.6,17.8 588.7,17.6 588.9,17.5 589.0,17.5 589.2,17.0 589.3,17.2 589.5,17.4 589.6,17.2 589.8,17.6 590.0,17.8 590.1,17.1 590.3,16.8 590.4,17.2 590.6,17.1 590.7,17.4 590.9,16.9 591.0,17.1 591.2,17.1 591.3,16.9 591.5,17.3 591.6,16.7 591.8,16.8 591.9,16.7 592.1,16.7 592.2,16.7 592.4,16.6 592.5,16.6 592.7,16.7 592.8,16.8 593.0,16.5 593.1,16.4 593.3,16.6 593.4,16.5 593.6,16.7 593.7,16.3 593.9,16.1 594.0,16.5 594.2,16.3 594.3,16.3 594.5,16.0 594.6,16.3 594.8,30.5 594.9,16.2 595.1,16.0 595.2,15.7 595.4,16.0 595.5,16.0 595.7,16.0 595.8,16.0 596.0,16.0 596.1,15.5 596.3,15.9 596.4,15.5 596.6,15.6 596.7,15.3 596.9,15.7 597.0,15.9 597.2,15.4 597.3,14.9 597.5,14.7" fill="none" stroke="#1f80c5" stroke-width="1.1" stroke-linejoin="round"/>
<line x1="446.5" y1="34.58" x2="597.5" y2="34.58" stroke="#f00" stroke-width="1.05" stroke-dasharray="2.85 2.72"/>
<rect x="446.5" y="3.25" width="151.0" height="109.65" fill="none" stroke="#b9b9b9" stroke-width="1"/>
<path d="M446.50 112.9v-1.6M446.50 3.25v1.6M476.70 112.9v-1.6M476.70 3.25v1.6M506.90 112.9v-1.6M506.90 3.25v1.6M537.10 112.9v-1.6M537.10 3.25v1.6M567.30 112.9v-1.6M567.30 3.25v1.6M597.50 112.9v-1.6M597.50 3.25v1.6M446.5 112.90h1.6M597.5 112.90h-1.6M446.5 97.24h1.6M597.5 97.24h-1.6M446.5 81.57h1.6M597.5 81.57h-1.6M446.5 65.91h1.6M597.5 65.91h-1.6M446.5 50.24h1.6M597.5 50.24h-1.6M446.5 34.58h1.6M597.5 34.58h-1.6M446.5 18.91h1.6M597.5 18.91h-1.6M446.5 3.25h1.6M597.5 3.25h-1.6" stroke="#b9b9b9" stroke-width="0.8" fill="none"/>
<g font-size="9.5" fill="#111">
<text x="446.50" y="124.30" text-anchor="middle">2</text>
<text x="476.70" y="124.30" text-anchor="middle">2.2</text>
<text x="506.90" y="124.30" text-anchor="middle">2.4</text>
<text x="537.10" y="124.30" text-anchor="middle">2.6</text>
<text x="567.30" y="124.30" text-anchor="middle">2.8</text>
<text x="597.50" y="124.30" text-anchor="middle">3</text>
<text x="443.30" y="116.60" text-anchor="end">-5</text>
<text x="443.30" y="100.94" text-anchor="end">-4</text>
<text x="443.30" y="85.27" text-anchor="end">-3</text>
<text x="443.30" y="69.61" text-anchor="end">-2</text>
<text x="443.30" y="53.94" text-anchor="end">-1</text>
<text x="443.30" y="38.28" text-anchor="end">0</text>
<text x="443.30" y="22.61" text-anchor="end">1</text>
<text x="443.30" y="6.95" text-anchor="end">2</text>
</g>
<text x="522.00" y="136.90" text-anchor="middle" font-size="10.5" font-style="italic" fill="#111">q</text>
<text transform="translate(432.60 58.08) rotate(-90)" text-anchor="middle" font-size="10.3" font-style="italic" fill="#111">Lyapnov exponent</text>
<text x="516.2" y="162.15" text-anchor="middle" font-size="15.5" fill="#111">(c)</text>
</g>
<g id="plot-d">
<clipPath id="c3"><rect x="22.5" y="192.6" width="151.0" height="109.55"/></clipPath>
<polyline clip-path="url(#c3)" points="24.1,303.0 24.1,303.0 24.3,299.0 24.4,298.1 24.8,295.6 25.1,294.3 25.2,293.2 25.6,290.9 26.0,288.5 26.1,288.3 26.4,287.3 26.8,286.1 26.9,286.0 27.2,285.2 27.6,284.3 28.0,283.4 28.4,282.5 28.6,282.2 28.8,281.9 29.2,281.4 29.6,280.9 30.0,280.4 30.4,279.8 30.6,279.6 30.8,279.5 31.2,279.2 31.6,278.9 32.0,278.6 32.4,278.3 32.7,278.1 32.8,278.0 33.2,277.9 33.6,277.7 34.0,277.6 34.4,277.4 34.8,277.2 35.2,277.1 35.2,277.1 35.6,276.9 36.0,276.6 36.4,276.4 36.8,276.2 37.4,275.9 37.5,266.9 37.6,275.7 38.0,275.4 38.4,275.0 38.8,274.6 39.2,274.2 39.6,273.8 40.0,273.4 40.3,273.1 40.4,273.0 40.8,272.8 41.2,272.6 41.6,272.4 42.0,272.2 42.4,272.0 42.8,271.9 42.8,271.8 43.2,271.0 43.5,270.5 43.6,269.3 44.0,266.0 44.2,264.4 44.4,264.2 44.8,263.8 45.2,263.4 45.3,263.4 45.6,264.4 46.0,265.6 46.3,266.4 46.4,266.5 46.8,266.9 47.2,267.3 47.6,267.7 47.8,267.9 48.0,267.5 48.4,266.8 48.8,266.1 49.2,265.4 49.6,264.7 49.8,264.4 50.0,263.7 50.4,262.6 50.8,261.5 51.2,260.4 51.3,260.3 51.5,258.6 51.6,259.3 51.7,259.6 51.9,256.3 52.0,256.0 52.4,255.2 52.8,254.3 53.2,253.5 53.4,253.2 53.6,252.8 54.0,252.1 54.4,251.4 54.8,250.7 55.2,250.0 55.4,249.7 55.6,249.4 56.0,249.0 56.4,248.6 56.8,248.1 57.2,247.7 57.6,247.3 57.9,247.0 58.0,246.9 58.4,246.8 58.8,246.6 59.2,246.4 59.6,246.2 60.0,246.1 60.0,246.2 60.4,246.5 60.6,246.6 60.8,249.2 61.0,250.7 61.2,247.6 61.4,245.8 61.6,245.5 62.0,244.7 62.4,244.6 62.8,244.4 63.2,243.4 63.5,242.6 63.6,242.6 64.0,242.4 64.4,243.2 64.8,242.6 65.2,242.8 65.5,241.9 65.6,242.2 66.0,243.0 66.4,243.5 66.5,242.9 66.8,242.3 67.2,242.9 67.6,241.9 68.0,242.0 68.4,241.1 68.6,241.5 68.8,241.8 69.2,241.9 69.6,241.7 69.6,242.1 70.0,241.0 70.4,240.7 70.8,240.4 71.2,240.4 71.6,239.2 71.6,240.0 72.0,239.7 72.4,239.7 72.8,238.9 73.2,238.6 73.6,238.4 74.0,238.9 74.4,238.9 74.8,238.4 75.2,238.0 75.6,237.6 75.7,238.2 76.0,238.0 76.4,236.9 76.8,236.7 77.2,237.2 77.6,236.9 77.7,236.3 78.0,236.2 78.4,236.3 78.8,236.4 79.2,235.8 79.6,236.6 79.7,236.2 80.0,236.2 80.4,235.3 80.8,235.8 81.1,235.4 81.2,234.9 81.6,235.5 82.0,235.1 82.4,235.2 82.8,234.3 83.2,234.2 83.6,234.9 84.0,234.3 84.4,234.4 84.8,234.0 85.1,234.8 85.2,234.3 85.6,234.5 86.0,233.6 86.4,233.9 86.8,233.3 87.2,234.1 87.6,233.5 88.0,233.0 88.4,232.8 88.8,233.2 89.2,232.6 89.6,232.6 90.0,232.8 90.2,232.8 90.4,232.9 90.8,232.9 91.2,232.7 91.6,232.9 92.0,232.4 92.4,232.6 92.8,233.1 93.2,232.4 93.6,232.5 94.0,232.5 94.4,232.8 94.9,232.3 95.0,248.9 95.0,232.8 95.6,232.4 96.0,233.0 96.4,233.1 96.8,232.9 97.2,233.0 97.6,232.7 98.0,232.3 98.3,232.7 98.4,232.6 98.8,232.7 99.2,232.0 99.6,231.9 100.0,232.4 100.4,231.6 100.8,231.6 101.2,232.0 101.3,231.3 101.6,231.0 102.0,231.4 102.4,231.1 102.8,230.9 103.2,230.1 103.6,230.4 104.0,229.7 104.4,229.8 104.8,230.2 105.2,229.3 105.6,229.4 106.0,229.9 106.4,229.8 106.4,229.2 106.8,229.5 107.2,229.3 107.6,229.1 108.0,229.5 108.4,228.7 108.8,229.4 109.2,228.5 109.6,229.4 110.0,229.1 110.4,228.8 110.8,229.0 111.2,228.8 111.6,229.1 112.0,228.3 112.4,228.7 112.5,229.1 112.8,229.0 113.2,228.0 113.6,227.9 114.0,228.4 114.4,227.6 114.8,227.1 115.2,227.6 115.6,227.1 116.0,227.2 116.4,226.7 116.8,226.6 117.2,226.3 117.6,226.0 117.6,226.6 118.0,226.3 118.4,226.3 118.8,226.3 119.2,225.5 119.6,226.1 120.0,226.0 120.4,225.5 120.8,225.5 121.2,224.9 121.6,225.5 122.0,224.7 122.4,225.0 122.8,224.5 123.2,224.3 123.6,224.8 123.6,224.7 124.0,224.9 124.4,225.1 124.8,225.3 125.2,224.3 125.6,224.9 126.0,224.9 126.4,225.0 126.8,224.9 127.2,224.9 127.6,225.3 128.0,224.8 128.4,224.9 128.7,225.1 128.8,224.4 129.2,224.6 129.6,224.0 130.0,223.9 130.4,223.6 130.8,223.6 131.2,223.4 131.6,223.6 132.0,223.5 132.4,223.6 132.8,223.0 133.1,223.3 133.2,222.7 133.6,223.0 134.0,222.7 134.4,222.7 134.8,222.2 135.2,222.8 135.6,222.5 136.0,221.7 136.4,222.0 136.8,222.4 137.2,221.3 137.6,221.4 138.0,221.8 138.2,221.0 138.4,221.7 138.8,221.4 139.2,221.5 139.6,221.2 140.0,221.5 140.4,220.8 140.8,220.9 141.2,220.3 141.6,220.7 142.0,220.5 142.4,221.0 142.8,220.9 143.2,219.9 143.2,219.8 143.6,220.0 144.0,220.2 144.4,220.9 144.8,220.8 145.2,220.9 145.6,220.9 146.0,220.5 146.3,221.0 146.4,221.6 146.8,221.3 147.2,220.9 147.6,220.3 148.0,221.0 148.4,220.3 148.8,220.4 149.2,219.8 149.6,219.8 150.0,219.7 150.4,219.7 150.8,219.1 151.2,219.7 151.3,219.1 151.6,219.6 152.0,219.5 152.4,219.6 152.8,219.1 153.2,219.0 153.6,219.5 154.0,219.1 154.4,218.8 154.8,219.5 155.2,218.5 155.6,219.4 156.0,218.7 156.4,218.8 156.8,219.4 157.2,218.7 157.4,219.0 157.6,218.7 158.0,219.1 158.4,218.9 158.8,218.5 159.2,218.0 159.6,218.3 160.0,218.4 160.4,218.1 160.8,218.3 161.2,217.8 161.6,218.1 162.0,218.1 162.4,218.2 162.8,218.2 163.2,218.1 163.5,217.7 163.6,217.7 164.0,218.1 164.4,217.4 164.8,217.7 165.2,217.9 165.6,217.7 166.0,217.2 166.4,216.8 166.8,217.1 167.2,217.0 167.6,216.8 168.0,216.5 168.4,216.5 168.6,216.0 168.8,216.3 169.2,216.1 169.6,216.6 170.0,216.9 170.4,216.0 170.8,215.9 171.2,216.7 171.6,216.2 172.0,216.4 172.4,215.9 172.8,216.0 173.2,216.5 173.5,216.4" fill="none" stroke="#1f80c5" stroke-width="1.1" stroke-linejoin="round"/>
<line x1="22.5" y1="286.50" x2="173.5" y2="286.50" stroke="#f00" stroke-width="1.05" stroke-dasharray="2.85 2.72"/>
<rect x="22.5" y="192.6" width="151.0" height="109.55" fill="none" stroke="#b9b9b9" stroke-width="1"/>
<path d="M22.50 302.15v-1.6M22.50 192.6v1.6M60.25 302.15v-1.6M60.25 192.6v1.6M98.00 302.15v-1.6M98.00 192.6v1.6M135.75 302.15v-1.6M135.75 192.6v1.6M173.50 302.15v-1.6M173.50 192.6v1.6M22.5 302.15h1.6M173.5 302.15h-1.6M22.5 286.50h1.6M173.5 286.50h-1.6M22.5 270.85h1.6M173.5 270.85h-1.6M22.5 255.20h1.6M173.5 255.20h-1.6M22.5 239.55h1.6M173.5 239.55h-1.6M22.5 223.90h1.6M173.5 223.90h-1.6M22.5 208.25h1.6M173.5 208.25h-1.6M22.5 192.60h1.6M173.5 192.60h-1.6" stroke="#b9b9b9" stroke-width="0.8" fill="none"/>
<g font-size="9.5" fill="#111">
<text x="22.50" y="314.05" text-anchor="middle">0</text>
<text x="60.25" y="314.05" text-anchor="middle">5</text>
<text x="98.00" y="314.05" text-anchor="middle">10</text>
<text x="135.75" y="314.05" text-anchor="middle">15</text>
<text x="173.50" y="314.05" text-anchor="middle">20</text>
<text x="19.30" y="305.85" text-anchor="end">-2</text>
<text x="19.30" y="290.20" text-anchor="end">0</text>
<text x="19.30" y="274.55" text-anchor="end">2</text>
<text x="19.30" y="258.90" text-anchor="end">4</text>
<text x="19.30" y="243.25" text-anchor="end">6</text>
<text x="19.30" y="227.60" text-anchor="end">8</text>
<text x="19.30" y="211.95" text-anchor="end">10</text>
<text x="19.30" y="196.30" text-anchor="end">12</text>
</g>
<text x="98.00" y="326.15" text-anchor="middle" font-size="10.5" font-style="italic" fill="#111">a</text>
<text transform="translate(8.60 247.38) rotate(-90)" text-anchor="middle" font-size="10.3" font-style="italic" fill="#111">Lyapnov exponent</text>
<text x="91.9" y="351.50" text-anchor="middle" font-size="15.5" fill="#111">(d)</text>
</g>
<g id="plot-e">
<clipPath id="c4"><rect x="234.4" y="192.6" width="151.0" height="109.55"/></clipPath>
<polyline clip-path="url(#c4)" points="235.3,303.0 235.3,303.0 235.7,295.4 235.9,291.6 236.1,289.3 236.4,286.2 236.5,303.0 236.6,284.8 236.9,282.4 237.1,280.9 237.5,278.5 237.6,284.5 237.9,276.2 238.0,275.6 238.3,273.8 238.4,282.5 238.7,272.6 238.8,271.5 239.1,271.4 239.2,283.5 239.5,270.3 239.6,269.7 239.9,269.1 240.0,284.2 240.1,268.5 240.4,267.7 240.5,267.5 240.8,266.6 240.9,281.0 241.2,265.6 241.3,265.2 241.4,265.1 241.7,264.3 241.8,264.0 242.1,263.4 242.5,262.7 242.9,261.9 243.3,261.2 243.7,260.4 243.7,260.4 244.1,259.8 244.5,259.2 244.6,285.5 244.7,259.0 245.3,258.1 245.7,257.5 246.1,256.9 246.2,256.8 246.5,256.4 246.9,255.9 247.3,255.3 247.7,254.8 247.7,254.8 248.1,254.5 248.1,254.5 248.4,257.0 248.5,255.9 248.7,253.6 248.9,253.3 249.3,252.7 249.7,252.1 250.1,251.5 250.3,251.2 250.5,251.1 251.0,250.8 251.1,286.2 251.2,250.6 251.7,250.2 252.1,249.9 252.5,249.6 252.9,249.3 253.3,249.0 253.7,248.7 254.1,248.4 254.3,248.2 254.5,248.1 254.9,247.8 255.0,247.7 255.3,249.5 255.3,249.5 255.6,247.2 255.7,247.1 256.1,246.9 256.5,246.1 256.9,245.5 257.3,245.3 257.7,245.0 258.1,244.9 258.4,244.1 258.5,243.7 258.9,244.1 259.3,243.2 259.7,243.2 260.1,243.3 260.5,242.7 260.9,242.4 261.3,242.4 261.7,241.4 262.1,241.6 262.5,241.2 262.9,241.3 263.3,240.9 263.4,240.2 263.7,240.2 264.1,240.2 264.5,240.2 264.9,239.7 265.3,239.6 265.7,239.8 266.1,239.6 266.5,239.0 266.9,239.2 267.3,238.6 267.7,238.2 268.1,238.3 268.5,238.2 268.5,238.4 268.9,238.3 269.3,238.0 269.7,237.8 270.1,237.6 270.5,237.4 270.9,237.3 271.3,237.3 271.3,236.8 271.6,238.3 271.7,237.8 271.9,236.5 272.1,236.5 272.5,236.7 272.9,235.9 273.3,236.0 273.7,236.2 274.1,235.5 274.5,235.2 274.8,235.2 274.9,284.7 275.0,235.5 275.3,234.9 275.7,234.7 276.1,235.0 276.5,234.8 276.9,234.4 277.3,234.5 277.7,233.6 278.1,234.1 278.5,233.6 278.6,233.3 278.9,233.6 279.3,233.3 279.7,233.4 280.1,232.5 280.5,232.7 280.9,232.4 281.3,232.4 281.7,231.9 282.1,231.5 282.5,231.7 282.7,231.5 282.9,231.8 283.3,231.3 283.7,231.0 284.1,231.0 284.5,230.7 284.9,230.8 285.3,230.5 285.7,230.1 286.1,229.6 286.5,229.7 286.9,229.7 287.2,229.5 287.3,229.7 287.7,228.9 288.1,229.0 288.5,228.9 288.9,228.7 289.3,228.6 289.7,228.6 290.1,228.5 290.5,228.2 290.9,228.0 291.3,228.0 291.7,227.8 292.1,227.8 292.5,228.0 292.9,227.8 293.3,228.0 293.7,227.6 294.1,227.5 294.5,227.4 294.9,227.4 295.3,227.2 295.3,227.2 295.7,227.1 296.1,226.8 296.5,227.0 296.9,226.8 297.3,226.4 297.7,226.3 298.1,226.0 298.5,226.2 298.9,225.8 299.3,225.8 299.7,225.6 300.1,225.7 300.5,225.7 300.9,225.8 301.3,225.8 301.7,225.6 302.1,225.1 302.4,225.6 302.5,225.5 302.9,225.2 303.3,225.3 303.7,225.1 304.1,224.8 304.5,225.1 304.9,225.3 305.3,225.0 305.7,224.5 306.1,224.4 306.5,225.0 306.9,224.9 307.3,224.7 307.7,224.6 308.1,224.1 308.5,224.5 308.9,224.0 309.1,223.9 309.3,225.2 309.4,225.4 309.7,224.4 309.7,223.8 310.1,224.2 310.5,223.9 310.9,224.0 311.3,223.7 311.7,223.9 312.1,223.3 312.5,223.3 312.9,223.0 313.3,223.2 313.7,222.8 314.1,223.0 314.5,222.4 314.9,222.4 315.3,222.4 315.5,222.1 315.7,222.1 316.1,222.6 316.5,222.1 316.9,221.9 317.3,222.3 317.7,222.0 318.1,222.0 318.5,222.1 318.9,221.9 319.3,221.5 319.7,221.2 320.1,221.5 320.5,221.6 320.9,221.6 321.3,221.0 321.7,221.3 322.1,221.4 322.5,220.8 322.6,220.8 322.9,220.9 323.3,220.9 323.7,221.2 324.1,220.8 324.5,221.0 324.9,220.7 325.3,220.5 325.7,220.3 326.1,220.2 326.5,220.5 326.9,220.0 327.3,219.8 327.7,219.8 328.1,220.1 328.5,219.8 328.9,219.6 329.3,219.6 329.7,219.4 329.7,219.6 330.1,219.9 330.5,219.5 330.9,219.5 331.3,219.1 331.7,219.2 332.1,219.0 332.5,218.9 332.9,219.5 333.3,219.3 333.7,219.4 334.1,218.7 334.5,218.9 334.9,219.2 335.0,218.8 335.3,219.2 335.7,219.1 336.1,218.3 336.5,218.5 336.9,218.6 337.3,218.3 337.7,218.2 338.1,218.1 338.5,217.9 338.9,217.7 339.3,218.2 339.7,218.3 340.1,217.4 340.1,218.1 340.5,217.8 340.9,217.3 341.3,217.2 341.7,217.5 342.1,217.1 342.5,217.2 342.9,217.1 343.3,217.6 343.7,217.1 344.1,216.9 344.5,217.3 344.9,217.3 345.3,217.0 345.7,216.5 346.1,217.0 346.5,216.6 346.9,216.8 347.3,216.6 347.7,216.5 348.1,216.5 348.2,216.5 348.5,216.2 348.9,216.2 349.3,215.8 349.7,215.9 350.1,216.3 350.5,215.7 350.9,216.0 351.3,216.0 351.7,215.5 352.1,215.9 352.5,215.7 352.9,215.9 353.3,215.3 353.7,215.6 354.1,215.6 354.5,215.1 354.9,214.9 355.3,215.0 355.3,215.2 355.7,214.9 356.1,215.3 356.5,214.8 356.9,215.1 357.3,214.7 357.7,214.8 358.1,215.0 358.5,214.7 358.9,214.7 359.3,214.5 359.7,214.5 360.1,214.1 360.5,214.4 360.9,214.3 361.3,214.2 361.7,214.0 362.1,214.1 362.5,214.0 362.9,214.0 363.3,214.3 363.4,214.4 363.7,214.3 364.1,213.9 364.5,214.2 364.9,213.9 365.3,214.2 365.7,213.5 366.1,213.9 366.5,213.7 366.9,213.6 367.3,213.8 367.7,213.8 368.1,213.8 368.5,213.3 368.9,213.3 369.3,213.4 369.7,212.9 370.1,213.5 370.5,213.3 370.5,213.2 370.9,213.3 371.3,213.5 371.7,213.3 372.1,213.1 372.5,212.7 372.9,213.3 373.3,212.8 373.7,213.2 374.1,212.8 374.5,212.9 374.9,213.0 375.3,212.3 375.7,212.4 376.1,212.3 376.5,212.2 376.9,212.4 377.3,212.8 377.6,212.2 377.7,212.1 378.1,212.7 378.5,212.3 378.9,212.2 379.3,212.3 379.7,212.4 380.1,211.9 380.5,211.8 380.9,211.9 381.3,212.2 381.7,212.2 382.1,211.6 382.5,211.9 382.9,211.7 383.3,212.0 383.7,211.5 384.1,211.4 384.5,211.1 384.9,211.8 385.3,211.1 385.4,211.2" fill="none" stroke="#1f80c5" stroke-width="1.1" stroke-linejoin="round"/>
<line x1="234.4" y1="286.50" x2="385.4" y2="286.50" stroke="#f00" stroke-width="1.05" stroke-dasharray="2.85 2.72"/>
<rect x="234.4" y="192.6" width="151.0" height="109.55" fill="none" stroke="#b9b9b9" stroke-width="1"/>
<path d="M234.40 302.15v-1.6M234.40 192.6v1.6M272.15 302.15v-1.6M272.15 192.6v1.6M309.90 302.15v-1.6M309.90 192.6v1.6M347.65 302.15v-1.6M347.65 192.6v1.6M385.40 302.15v-1.6M385.40 192.6v1.6M234.4 302.15h1.6M385.4 302.15h-1.6M234.4 286.50h1.6M385.4 286.50h-1.6M234.4 270.85h1.6M385.4 270.85h-1.6M234.4 255.20h1.6M385.4 255.20h-1.6M234.4 239.55h1.6M385.4 239.55h-1.6M234.4 223.90h1.6M385.4 223.90h-1.6M234.4 208.25h1.6M385.4 208.25h-1.6M234.4 192.60h1.6M385.4 192.60h-1.6" stroke="#b9b9b9" stroke-width="0.8" fill="none"/>
<g font-size="9.5" fill="#111">
<text x="234.40" y="314.05" text-anchor="middle">0</text>
<text x="272.15" y="314.05" text-anchor="middle">5</text>
<text x="309.90" y="314.05" text-anchor="middle">10</text>
<text x="347.65" y="314.05" text-anchor="middle">15</text>
<text x="385.40" y="314.05" text-anchor="middle">20</text>
<text x="231.20" y="305.85" text-anchor="end">-2</text>
<text x="231.20" y="290.20" text-anchor="end">0</text>
<text x="231.20" y="274.55" text-anchor="end">2</text>
<text x="231.20" y="258.90" text-anchor="end">4</text>
<text x="231.20" y="243.25" text-anchor="end">6</text>
<text x="231.20" y="227.60" text-anchor="end">8</text>
<text x="231.20" y="211.95" text-anchor="end">10</text>
<text x="231.20" y="196.30" text-anchor="end">12</text>
</g>
<text x="309.90" y="326.15" text-anchor="middle" font-size="10.5" font-style="italic" fill="#111">a</text>
<text transform="translate(220.50 247.38) rotate(-90)" text-anchor="middle" font-size="10.3" font-style="italic" fill="#111">Lyapnov exponent</text>
<text x="303.8" y="351.50" text-anchor="middle" font-size="15.5" fill="#111">(e)</text>
</g>
<g id="plot-f">
<clipPath id="c5"><rect x="446.5" y="192.6" width="151.0" height="109.55"/></clipPath>
<polyline clip-path="url(#c5)" points="447.5,303.0 447.5,303.0 448.2,299.8 448.9,296.6 449.6,293.3 450.3,290.1 451.0,286.9 451.0,286.9 451.7,297.1 452.1,303.0 452.4,298.7 452.9,291.6 453.1,290.2 453.8,285.1 454.1,283.3 454.5,279.6 455.2,274.0 455.8,269.1 455.9,268.6 456.6,264.9 457.2,261.8 457.3,261.4 457.9,259.0 458.0,303.0 458.1,258.4 458.7,256.8 458.7,256.8 459.4,256.3 460.0,255.8 460.1,256.0 460.8,257.4 461.0,257.8 461.5,257.1 462.2,256.2 462.3,256.1 462.9,256.6 463.6,257.1 463.8,257.3 464.3,258.5 465.0,260.3 465.5,261.3 465.6,281.6 465.7,261.6 466.4,262.2 467.1,262.5 467.8,262.9 467.8,262.9 468.5,262.7 469.2,262.4 469.9,262.2 469.9,262.2 470.6,261.9 471.3,261.6 471.7,261.4 472.0,261.4 472.1,289.3 472.2,261.5 472.5,261.5 472.8,260.5 472.9,284.5 473.1,259.8 473.4,258.8 473.4,258.8 474.2,258.1 474.4,287.3 474.5,258.0 474.8,257.7 475.5,257.2 476.2,256.7 476.4,256.5 476.9,256.4 477.6,256.2 477.7,281.2 477.8,256.1 478.3,255.9 479.0,255.5 479.0,255.5 479.7,257.2 479.7,257.2 480.2,254.0 480.4,253.6 481.0,252.3 481.1,252.1 481.8,250.4 482.5,248.7 482.5,248.7 483.2,247.5 483.9,246.4 484.6,245.2 484.6,245.2 485.3,244.5 486.0,243.8 486.7,243.0 487.4,242.3 487.6,242.1 488.1,241.7 488.8,241.2 489.5,240.7 490.2,240.2 490.9,239.6 491.6,239.1 491.6,239.1 492.3,238.6 493.0,238.0 493.7,237.5 494.4,237.0 495.1,236.5 495.7,236.0 495.8,235.9 496.5,235.4 497.2,234.9 497.9,234.3 498.6,234.0 499.3,233.5 500.0,233.0 500.1,233.0 500.7,232.5 501.4,232.2 502.1,231.9 502.8,231.5 503.5,231.1 504.2,230.9 504.9,230.4 505.1,230.5 505.6,230.3 506.3,229.9 507.0,229.8 507.7,229.7 508.4,229.5 509.1,229.1 509.8,228.9 510.5,228.8 511.2,228.6 511.8,228.3 511.9,292.3 512.0,228.3 512.6,228.1 513.3,227.7 514.0,227.5 514.7,227.3 515.4,226.9 516.1,226.6 516.8,226.3 517.5,226.1 518.2,225.9 518.3,225.7 518.9,225.5 519.6,225.4 520.3,225.1 521.0,225.0 521.7,224.7 522.4,224.7 523.1,224.5 523.8,224.2 524.5,224.0 525.2,223.8 525.4,223.8 525.9,223.8 526.6,223.6 527.3,223.2 528.0,223.0 528.7,223.0 529.4,222.8 529.8,222.6 529.9,256.9 530.0,222.6 530.8,222.3 531.5,222.1 532.2,221.6 532.9,221.5 533.5,221.2 533.6,221.4 534.0,222.3 534.3,221.4 534.5,221.0 535.0,220.8 535.5,220.8 535.7,220.7 536.6,220.1 536.7,230.6 536.8,220.0 537.1,219.7 537.8,219.1 538.5,218.2 538.6,218.1 539.2,217.7 539.9,217.1 540.6,216.5 541.3,216.1 542.0,215.5 542.3,215.1 542.7,214.9 543.4,214.5 544.1,214.1 544.8,213.7 545.5,213.3 546.2,213.0 546.9,212.4 547.6,212.1 547.7,212.0 548.3,211.5 549.0,210.8 549.1,210.9 549.7,210.6 550.4,210.3 551.1,209.9 551.8,209.7 552.5,209.4 553.2,209.1 553.9,208.6 554.6,208.5 555.3,208.2 556.0,207.8 556.7,207.5 557.2,207.2 557.4,207.3 558.1,207.1 558.8,206.8 559.5,206.5 560.2,206.2 560.9,205.9 561.6,205.7 562.3,205.5 563.0,205.1 563.7,205.1 564.4,204.7 565.1,204.5 565.3,204.3 565.8,204.3 566.5,204.1 567.2,203.9 567.9,203.6 568.6,203.5 569.3,203.1 570.0,203.1 570.7,202.8 571.4,202.5 572.1,202.4 572.8,202.2 573.4,201.9 573.5,202.1 574.2,201.8 574.9,201.7 575.6,201.5 576.3,201.1 577.0,201.0 577.7,200.7 578.4,200.6 579.1,200.4 579.8,200.2 580.5,200.1 581.2,199.7 581.5,199.7 581.9,199.6 582.6,199.3 583.3,199.3 584.0,199.1 584.7,199.0 585.4,198.7 586.1,198.5 586.8,198.5 587.5,198.1 588.2,197.9 588.9,197.9 589.6,197.6 589.6,197.6 590.3,197.6 591.0,197.3 591.7,197.3 592.4,197.1 593.1,196.9 593.8,196.7 594.5,196.6 595.2,196.7 595.9,196.4 596.6,196.2 597.3,196.1 597.5,196.2" fill="none" stroke="#1f80c5" stroke-width="1.1" stroke-linejoin="round"/>
<line x1="446.5" y1="286.50" x2="597.5" y2="286.50" stroke="#f00" stroke-width="1.05" stroke-dasharray="2.85 2.72"/>
<rect x="446.5" y="192.6" width="151.0" height="109.55" fill="none" stroke="#b9b9b9" stroke-width="1"/>
<path d="M446.50 302.15v-1.6M446.50 192.6v1.6M484.25 302.15v-1.6M484.25 192.6v1.6M522.00 302.15v-1.6M522.00 192.6v1.6M559.75 302.15v-1.6M559.75 192.6v1.6M597.50 302.15v-1.6M597.50 192.6v1.6M446.5 302.15h1.6M597.5 302.15h-1.6M446.5 286.50h1.6M597.5 286.50h-1.6M446.5 270.85h1.6M597.5 270.85h-1.6M446.5 255.20h1.6M597.5 255.20h-1.6M446.5 239.55h1.6M597.5 239.55h-1.6M446.5 223.90h1.6M597.5 223.90h-1.6M446.5 208.25h1.6M597.5 208.25h-1.6M446.5 192.60h1.6M597.5 192.60h-1.6" stroke="#b9b9b9" stroke-width="0.8" fill="none"/>
<g font-size="9.5" fill="#111">
<text x="446.50" y="314.05" text-anchor="middle">0</text>
<text x="484.25" y="314.05" text-anchor="middle">5</text>
<text x="522.00" y="314.05" text-anchor="middle">10</text>
<text x="559.75" y="314.05" text-anchor="middle">15</text>
<text x="597.50" y="314.05" text-anchor="middle">20</text>
<text x="443.30" y="305.85" text-anchor="end">-2</text>
<text x="443.30" y="290.20" text-anchor="end">0</text>
<text x="443.30" y="274.55" text-anchor="end">2</text>
<text x="443.30" y="258.90" text-anchor="end">4</text>
<text x="443.30" y="243.25" text-anchor="end">6</text>
<text x="443.30" y="227.60" text-anchor="end">8</text>
<text x="443.30" y="211.95" text-anchor="end">10</text>
<text x="443.30" y="196.30" text-anchor="end">12</text>
</g>
<text x="522.00" y="326.15" text-anchor="middle" font-size="10.5" font-style="italic" fill="#111">a</text>
<text transform="translate(432.60 247.38) rotate(-90)" text-anchor="middle" font-size="10.3" font-style="italic" fill="#111">Lyapnov exponent</text>
<text x="516.2" y="351.50" text-anchor="middle" font-size="15.5" fill="#111">(f)</text>
</g>
</svg>
</body></html>
